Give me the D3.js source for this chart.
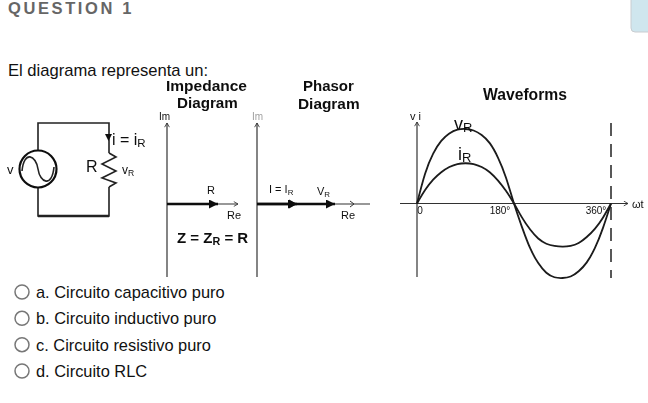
<!DOCTYPE html>
<html>
<head>
<meta charset="utf-8">
<script src="https://cdn.jsdelivr.net/npm/d3@7"></script>
<style>
  html, body { margin: 0; padding: 0; background: #fff; overflow: hidden; }
  text { font-family: "Liberation Sans", Arial, sans-serif; fill: #111; }
  .wire { fill: none; stroke: #222; stroke-width: 1.6; }
  .thin { fill: none; stroke: #333; stroke-width: 1.2; }
  .wave { fill: none; stroke: #1a1a1a; stroke-width: 1.8; }
</style>
</head>
<body>
<script>
const width = 648
const height = 403

/* Question text. */
const questionTitle = "QUESTION 1"
const questionText = "El diagrama representa un:"
const answers = ["a. Circuito capacitivo puro", "b. Circuito inductivo puro", "c. Circuito resistivo puro", "d. Circuito RLC"]

/* Waveforms: angle in degrees, amplitude with v peak = 1. */
const angles = [0, 15, 30, 45, 60, 75, 90, 105, 120, 135, 150, 165, 180, 195, 210, 225, 240, 255, 270, 285, 300, 315, 330, 345, 360]
const vR = [0, 0.4, 0.67, 0.84, 0.94, 0.99, 1, 0.98, 0.92, 0.81, 0.62, 0.35, 0, -0.32, -0.6, -0.8, -0.93, -0.99, -1, -0.98, -0.91, -0.79, -0.6, -0.33, 0]
const iR = [0, 0.18, 0.32, 0.42, 0.49, 0.53, 0.54, 0.53, 0.49, 0.42, 0.31, 0.17, 0, -0.19, -0.35, -0.47, -0.54, -0.57, -0.58, -0.57, -0.53, -0.45, -0.34, -0.19, 0]
const waveTicks = [0, 180, 360]
const waveTickLabels = ["0", "180°", "360°"]

/* Phasor lengths, in units of the R / I arrow. */
const impedanceValues = [1]
const phasorValues = [1, 1.95]

const svg = d3.select("body")
  .append("svg")
  .attr("width", width)
  .attr("height", height)
  .style("display", "block")

const defs = svg.append("defs")
defs.append("filter").attr("id", "soft")
  .attr("x", "-5%").attr("y", "-5%").attr("width", "110%").attr("height", "110%")
  .append("feGaussianBlur").attr("stdDeviation", 0.35)
defs.append("marker")
  .attr("id", "head")
  .attr("viewBox", "0 0 10 10")
  .attr("refX", 10).attr("refY", 5)
  .attr("markerUnits", "userSpaceOnUse")
  .attr("markerWidth", 9).attr("markerHeight", 9)
  .attr("orient", "auto")
  .append("path").attr("d", "M0,0L10,5L0,10Z").attr("fill", "#111")
defs.append("marker")
  .attr("id", "open")
  .attr("viewBox", "0 0 10 10")
  .attr("refX", 9).attr("refY", 5)
  .attr("markerUnits", "userSpaceOnUse")
  .attr("markerWidth", 6).attr("markerHeight", 6)
  .attr("orient", "auto")
  .append("path").attr("d", "M2,1L9,5L2,9").attr("fill", "none").attr("stroke", "#333").attr("stroke-width", 1.4)

/* Page text. */
svg.append("text")
  .attr("x", 8).attr("y", 14)
  .attr("font-size", 16.5).attr("font-weight", "bold")
  .attr("letter-spacing", 2.6)
  .style("fill", "#666")
  .text(questionTitle)

svg.append("text")
  .attr("x", 8).attr("y", 76)
  .attr("font-size", 16.6)
  .text(questionText)

/* Blue corner box at the top right. */
svg.append("rect")
  .attr("x", 631).attr("y", -10)
  .attr("width", 40).attr("height", 42).attr("rx", 4)
  .attr("fill", "#cfe6ee").attr("stroke", "#c9ccd0")

/* Answers with their radio buttons. */
const answerY = d3.scalePoint().domain(answers).range([292, 371])
const rows = svg.selectAll("g.answer")
  .data(answers)
  .enter()
  .append("g")
  .attr("class", "answer")
  .attr("transform", d => `translate(0,${answerY(d)})`)
rows.append("circle")
  .attr("cx", 22).attr("cy", 0).attr("r", 7)
  .attr("fill", "#fff").attr("stroke", "#777").attr("stroke-width", 1.5)
rows.append("text")
  .attr("x", 36).attr("y", 6)
  .attr("font-size", 16.4)
  .text(d => d)

/* The scanned figure is a little soft, so everything in it goes in one group. */
const fig = svg.append("g").attr("filter", "url(#soft)")

/* Label with a subscript, drawn as one text element. */
function label(x, y, main, sub, size, weight) {
  const t = fig.append("text")
    .attr("x", x).attr("y", y)
    .attr("font-size", size)
    .attr("font-weight", weight || "normal")
  t.append("tspan").text(main)
  if (sub) t.append("tspan").attr("dy", 2).attr("font-size", size * 0.72).text(sub)
  return t
}

/* Circuit. */
const resistor = d3.line()
  .x(d => 109 + d[0])
  .y(d => 153 + d[1])
fig.append("path").attr("class", "wire")
  .attr("d", "M38,150V123H109V153")
fig.append("path").attr("class", "wire")
  .attr("d", "M38,187V216H109V187")
fig.append("line").attr("x1", 38).attr("x2", 109).attr("y1", 216).attr("y2", 216)
  .attr("stroke", "#222").attr("stroke-width", 2.4)
fig.append("path").attr("class", "wire")
  .attr("d", resistor([[0, 0], [7, 4], [-7, 11], [7, 18], [-7, 25], [7, 30], [0, 34]]))
fig.append("circle").attr("cx", 38).attr("cy", 169).attr("r", 18.5)
  .attr("fill", "none").attr("stroke", "#111").attr("stroke-width", 2.2)
fig.append("path").attr("class", "wire")
  .attr("d", "M22,171C24,150 36,155 38,169C40,183 52,188 54,167")
fig.append("path").attr("fill", "#111").attr("d", "M105,134L112,134L108.500,141Z")

label(7, 174, "v", null, 13)
label(86, 172, "R", null, 16)
label(122, 174, "v", "R", 12)
label(112, 145, "i = i", "R", 16)

/* Impedance and phasor diagrams. */
const axisY = 204
const impedanceX = d3.scaleLinear().domain([0, 1]).range([167, 218])
const phasorX = d3.scaleLinear().domain([0, 1]).range([257, 297])

fig.append("line").attr("class", "thin").attr("x1", 167).attr("x2", 167).attr("y1", 277).attr("y2", 123)
  .attr("marker-end", "url(#open)").attr("stroke-width", 1.5)
fig.append("line").attr("class", "thin").attr("x1", 257).attr("x2", 257).attr("y1", 277).attr("y2", 123)
  .attr("marker-end", "url(#open)").attr("stroke-width", 1.5)
fig.append("line").attr("class", "thin").attr("x1", 167).attr("x2", 238).attr("y1", axisY).attr("y2", axisY)
  .attr("marker-end", "url(#open)")
fig.append("line").attr("class", "thin").attr("x1", 257).attr("x2", 370).attr("y1", axisY).attr("y2", axisY)

fig.selectAll("line.imp")
  .data(impedanceValues)
  .enter()
  .append("line")
  .attr("class", "imp")
  .attr("x1", impedanceX(0)).attr("x2", d => impedanceX(d))
  .attr("y1", axisY).attr("y2", axisY)
  .attr("stroke", "#111").attr("stroke-width", 2.4)
  .attr("marker-end", "url(#head)")

fig.selectAll("line.pha")
  .data(phasorValues.slice().reverse())
  .enter()
  .append("line")
  .attr("class", "pha")
  .attr("x1", phasorX(0)).attr("x2", d => phasorX(d))
  .attr("y1", axisY).attr("y2", axisY)
  .attr("stroke", "#111").attr("stroke-width", 2.4)
  .attr("marker-end", "url(#head)")
fig.append("path").attr("fill", "#111").attr("d", `M${phasorX(phasorValues[0]) - 8},${axisY - 4.5}L${phasorX(phasorValues[0])},${axisY}L${phasorX(phasorValues[0]) - 8},${axisY + 4.5}Z`)
fig.append("path").attr("fill", "none").attr("stroke", "#333").attr("d", `M350,${axisY - 3}L354,${axisY}L350,${axisY + 3}`)

label(166, 91, "Impedance", null, 15.5, "bold")
label(177, 108, "Diagram", null, 15.2, "bold")
label(303, 91, "Phasor", null, 15, "bold")
label(298, 109, "Diagram", null, 15.4, "bold")
label(159, 120, "Im", null, 10)
label(252, 120, "Im", null, 10).attr("opacity", 0.4)
label(207, 194, "R", null, 11)
label(227, 219, "Re", null, 11)
label(269, 193, "I = I", "R", 11)
label(317, 195, "V", "R", 11)
label(341, 219, "Re", null, 11)
label(177, 243, "Z = Z", "R", 15, "bold").append("tspan").attr("dy", -2).attr("font-size", 15).text(" = R")

/* Waveforms. */
const x = d3.scaleLinear().domain([0, 360]).range([417, 611])
const y = d3.scaleLinear().domain([-1, 1]).range([278, 129])
const waveLine = d3.line()
  .x((d, i) => x(angles[i]))
  .y(d => y(d))
  .curve(d3.curveNatural)

fig.append("line").attr("class", "thin").attr("x1", 400).attr("x2", 628).attr("y1", y(0)).attr("y2", y(0))
  .attr("marker-end", "url(#open)")
fig.append("line").attr("class", "thin").attr("x1", x(0)).attr("x2", x(0)).attr("y1", 277).attr("y2", 122)
  .attr("marker-end", "url(#open)").attr("stroke-width", 1.5)
fig.append("line")
  .attr("x1", x(360)).attr("x2", x(360)).attr("y1", 123).attr("y2", 278)
  .attr("stroke", "#222").attr("stroke-width", 1.5).attr("stroke-dasharray", "13 8")

fig.selectAll("path.wave")
  .data([vR, iR])
  .enter()
  .append("path")
  .attr("class", "wave")
  .attr("d", waveLine)

fig.selectAll("text.tick")
  .data(waveTicks)
  .enter()
  .append("text")
  .attr("class", "tick")
  .attr("x", d => x(d) + (d === 0 ? 3 : d === 180 ? -14 : -15))
  .attr("y", 214)
  .attr("font-size", 10)
  .attr("text-anchor", "middle")
  .text((d, i) => waveTickLabels[i])

label(483, 100, "Waveforms", null, 15.7, "bold")
label(410, 120, "v i", null, 11)
label(454, 130, "v", "R", 18)
label(458, 160, "i", "R", 18)
label(632, 208, "ωt", null, 11)
</script>
</body>
</html>
